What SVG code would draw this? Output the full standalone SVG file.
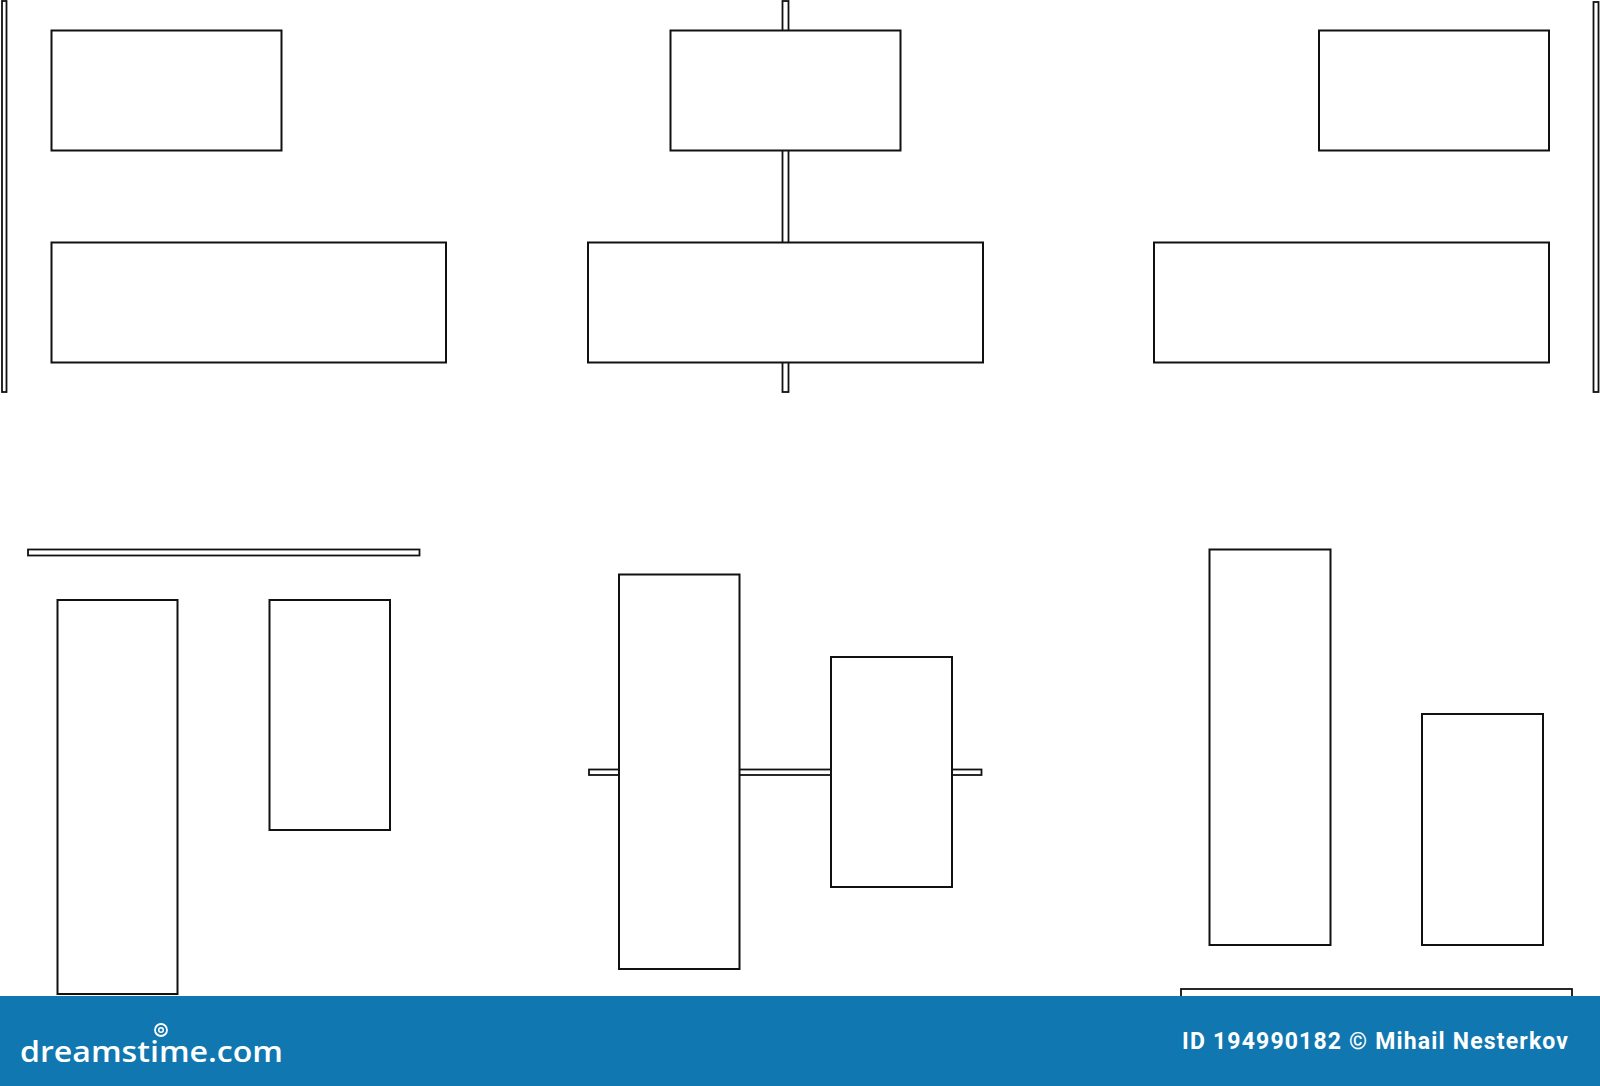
<svg xmlns="http://www.w3.org/2000/svg" width="1600" height="1086" viewBox="0 0 1600 1086">
<style>
.box{fill:#fff;stroke:#111;stroke-width:2}
.bar{fill:#fff;stroke:#111;stroke-width:1.8}
.band{fill:#1077b0}
.logo{font-family:"Open Sans",sans-serif;font-weight:600;font-size:29px;fill:#fff}
.credit{font-family:Roboto,sans-serif;font-weight:bold;font-size:23px;fill:#fff}
</style>
<rect width="1600" height="1086" fill="#fff"/>
<g id="align-left">
<rect class="bar" x="2" y="1" width="4.5" height="391"/>
<rect class="box" x="51.5" y="30.5" width="230" height="120"/>
<rect class="box" x="51.5" y="242.5" width="394.5" height="120"/>
</g>
<g id="align-center">
<rect class="bar" x="782.5" y="1" width="6" height="391"/>
<rect class="box" x="670.5" y="30.5" width="230" height="120"/>
<rect class="box" x="588" y="242.5" width="395" height="120"/>
</g>
<g id="align-right">
<rect class="bar" x="1593.5" y="2" width="5" height="390"/>
<rect class="box" x="1319" y="30.5" width="230" height="120"/>
<rect class="box" x="1154" y="242.5" width="395" height="120"/>
</g>
<g id="align-top">
<rect class="bar" x="28" y="549.5" width="391.5" height="6"/>
<rect class="box" x="57.5" y="600" width="120" height="394"/>
<rect class="box" x="269.5" y="600" width="120.5" height="230"/>
</g>
<g id="align-middle">
<rect class="bar" x="589" y="769.5" width="392.5" height="5.5"/>
<rect class="box" x="619" y="574.5" width="120.5" height="394.5"/>
<rect class="box" x="831" y="657" width="121" height="230"/>
</g>
<g id="align-bottom">
<rect class="box" x="1209.5" y="549.5" width="121" height="395.5"/>
<rect class="box" x="1422" y="714" width="121" height="231"/>
<rect class="bar" x="1181" y="989" width="391" height="8"/>
</g>
<g id="footer">
<rect class="band" x="0" y="996" width="1600" height="90"/>
<text class="logo" x="20" y="1062" textLength="263" lengthAdjust="spacingAndGlyphs">dreamstime.com</text>
<circle cx="161" cy="1030" r="6" fill="none" stroke="#fff" stroke-width="1.8"/>
<circle cx="161" cy="1030" r="2.3" fill="none" stroke="#fff" stroke-width="1.5"/>
<text class="credit" x="1182" y="1049" textLength="386" lengthAdjust="spacing">ID 194990182 © Mihail Nesterkov</text>
</g>
</svg>
